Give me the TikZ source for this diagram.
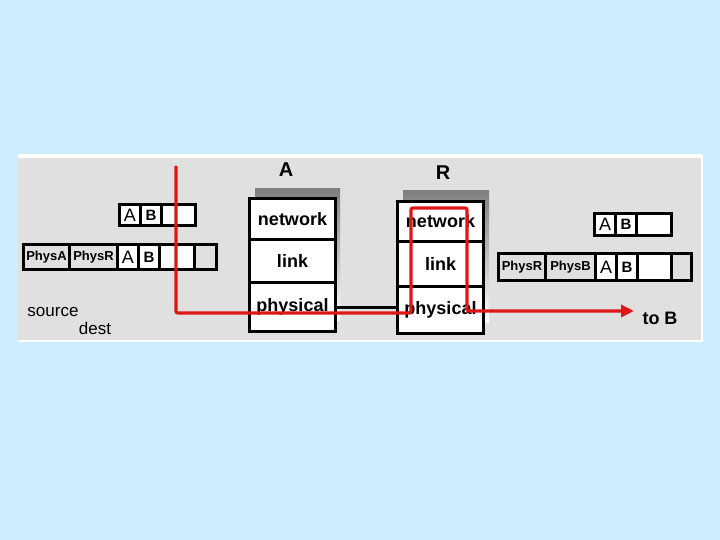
\documentclass[tikz,border=0pt]{standalone}
\usepackage{fontspec}
\setmainfont{Liberation Sans}
\usetikzlibrary{arrows.meta, positioning, calc}
\definecolor{sky}{RGB}{204,236,255}
\definecolor{panel}{RGB}{224,224,224}
\definecolor{shade}{RGB}{165,165,165}
\definecolor{redline}{RGB}{222,22,22}
\tikzstyle{layer} = [rectangle, draw=black, line width=3pt, fill=white, minimum width=86pt, outer sep=0pt, inner sep=0pt, font=\fontsize{18}{20}\selectfont\bfseries]
\tikzstyle{cell} = [rectangle, draw=black, line width=3pt, fill=white, outer sep=0pt, inner sep=0pt]
\tikzstyle{hdr} = [cell, fill=panel, font=\fontsize{13}{14}\selectfont\bfseries]
\tikzstyle{addr} = [cell, minimum width=21pt, font=\fontsize{18}{18}\selectfont]
\tikzstyle{dest} = [cell, minimum width=21pt, font=\fontsize{15}{15}\selectfont\bfseries]
\tikzstyle{wire} = [line width=3pt]
\tikzstyle{route} = [line width=3.2pt, draw=redline, rounded corners=2pt, -{Triangle[length=13pt,width=12pt]}]
\tikzstyle{caption} = [font=\fontsize{20}{20}\selectfont\bfseries]

\begin{document}
\begin{tikzpicture}[x=1pt, y=-1pt]
      \useasboundingbox (0,0) rectangle (720,540);
      \fill[sky] (0,0) rectangle (720,540);
      \fill[white] (18,154) rectangle (703,342);
      \fill[panel] (18,158) rectangle (701,340);
      % shadows behind the two stacks
      \fill[shade] (255,189) rectangle (340,320);
      \fill[shade] (403,191) rectangle (489,322);

      % host A
      \node (netA) [layer, minimum height=41pt, anchor=north west] at (249.5,198.5) {network};
      \node (linkA) [layer, minimum height=43pt, below=0pt of netA] {link};
      \node (physA) [layer, minimum height=49pt, below=0pt of linkA] {physical};
      \node (labA) [caption] at (286,170) {A};

      % router R
      \node (netR) [layer, minimum height=39pt, anchor=north west] at (397.5,202) {network};
      \node (linkR) [layer, minimum height=45pt, below=0pt of netR] {link};
      \node (physR) [layer, minimum height=47pt, below=0pt of linkR] {physical};
      \node (labR) [caption] at (443,173) {R};

      \draw [wire] (physA.east) -- (physA.east -| physR.west);

      % datagram and frame at A
      \node (lt1) [addr, minimum height=21pt, anchor=north west] at (119.5,204.5) {A};
      \node (lt2) [dest, minimum height=21pt, right=0pt of lt1] {B};
      \node (lt3) [cell, minimum width=34pt, minimum height=21pt, right=0pt of lt2] {};
      \node (lb1) [hdr, minimum width=46pt, minimum height=25pt, anchor=north west] at (23.5,244.5) {PhysA};
      \node (lb2) [hdr, minimum width=48pt, minimum height=25pt, right=0pt of lb1] {PhysR};
      \node (lb3) [addr, minimum height=25pt, right=0pt of lb2] {A};
      \node (lb4) [dest, minimum height=25pt, right=0pt of lb3] {B};
      \node (lb5) [cell, minimum width=35pt, minimum height=25pt, right=0pt of lb4] {};
      \node (lb6) [hdr, minimum width=22pt, minimum height=25pt, right=0pt of lb5] {};

      % datagram and frame leaving R
      \node (rt1) [addr, minimum height=22pt, anchor=north west] at (594.5,213.5) {A};
      \node (rt2) [dest, minimum height=22pt, right=0pt of rt1] {B};
      \node (rt3) [cell, minimum width=35pt, minimum height=22pt, right=0pt of rt2] {};
      \node (rb1) [hdr, minimum width=47pt, minimum height=27pt, anchor=north west] at (498.5,253.5) {PhysR};
      \node (rb2) [hdr, minimum width=50pt, minimum height=27pt, right=0pt of rb1] {PhysB};
      \node (rb3) [addr, minimum height=27pt, right=0pt of rb2] {A};
      \node (rb4) [dest, minimum height=27pt, right=0pt of rb3] {B};
      \node (rb5) [cell, minimum width=34pt, minimum height=27pt, right=0pt of rb4] {};
      \node (rb6) [hdr, minimum width=20pt, minimum height=27pt, right=0pt of rb5] {};

      \node (src) [font=\fontsize{17}{17}\selectfont] at (53,312) {source};
      \node (dst) [font=\fontsize{17}{17}\selectfont] at (95,328) {dest};
      \node (toB) [font=\fontsize{18}{18}\selectfont\bfseries] at (660,318) {to B};

      % red route of the datagram
      \coordinate (start) at (176,166);
      \coordinate (up1) at (411,313);
      \coordinate (up2) at (411,208);
      \coordinate (dn1) at (467,208);
      \coordinate (dn2) at (467,311);
      \coordinate (tip) at (634,311);
      \draw [route] (start) |- (up1) -- (up2) -- (dn1) -- (dn2) -- (tip);
    \end{tikzpicture}
\end{document}
